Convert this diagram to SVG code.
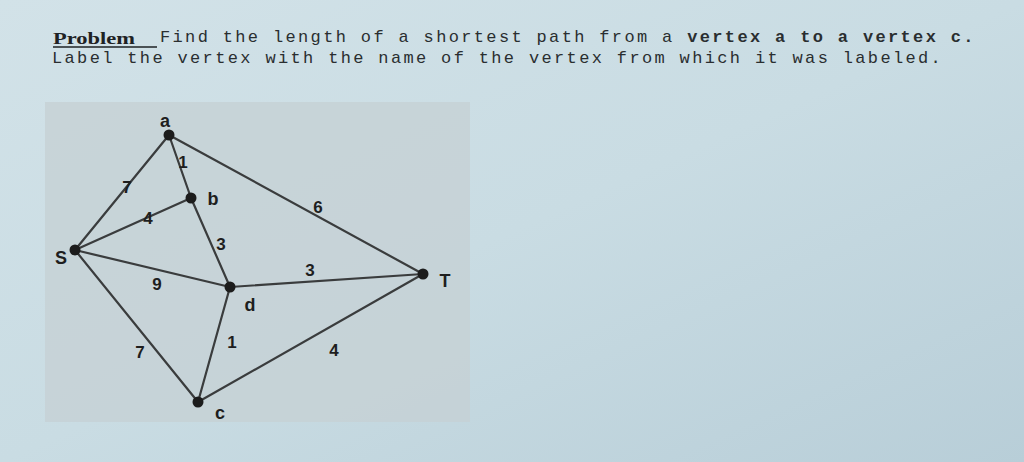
<svg xmlns="http://www.w3.org/2000/svg" width="1024" height="462" viewBox="0 0 1024 462">
<defs>
<linearGradient id="bg" x1="0" y1="0" x2="1" y2="1">
<stop offset="0" stop-color="#d2e2e8"/>
<stop offset="0.5" stop-color="#c9dce3"/>
<stop offset="1" stop-color="#b8ced8"/>
</linearGradient>
<style>
.hd{font-family:"Liberation Mono",monospace;font-size:17px;letter-spacing:2.35px;fill:#2a2e30}
.hb{font-weight:bold}
.pr{font-family:"Liberation Serif",serif;font-size:17px;font-weight:bold;fill:#1e2224}
.e{stroke:#3a3c3d;stroke-width:2.2;fill:none;stroke-linecap:round}
.n{fill:#1c1c1c}
.lb{font-family:"Liberation Sans",sans-serif;font-weight:bold;font-size:18px;fill:#1e1e1e;text-anchor:middle}
.w{font-family:"Liberation Sans",sans-serif;font-weight:bold;font-size:17px;fill:#1e1e1e;text-anchor:middle}
</style>
</defs>
<rect width="1024" height="462" fill="url(#bg)"/>
<rect x="45" y="102" width="425" height="320" fill="#c6d1d4" opacity="0.8"/>
<g id="header">
<text class="pr" x="53" y="44" textLength="82" lengthAdjust="spacingAndGlyphs">Problem</text>
<line x1="53" y1="47" x2="157" y2="47" stroke="#1e2224" stroke-width="1.6"/>
<text class="hd" x="160" y="42">Find the length of a shortest path from a <tspan class="hb">vertex a to a vertex c.</tspan></text>
<text class="hd" x="52" y="63">Label the vertex with the name of the vertex from which it was labeled.</text>
</g>
<g id="connectors">
<line class="e" x1="169" y1="135" x2="75" y2="250"/>
<line class="e" x1="169" y1="135" x2="191" y2="198"/>
<line class="e" x1="169" y1="135" x2="423" y2="274"/>
<line class="e" x1="191" y1="198" x2="75" y2="250"/>
<line class="e" x1="191" y1="198" x2="230" y2="287"/>
<line class="e" x1="75" y1="250" x2="230" y2="287"/>
<line class="e" x1="75" y1="250" x2="198" y2="402"/>
<line class="e" x1="230" y1="287" x2="423" y2="274"/>
<line class="e" x1="230" y1="287" x2="198" y2="402"/>
<line class="e" x1="198" y1="402" x2="423" y2="274"/>
<text class="w" x="127" y="193">7</text>
<text class="w" x="183" y="168">1</text>
<text class="w" x="148" y="224">4</text>
<text class="w" x="318" y="213">6</text>
<text class="w" x="221" y="250">3</text>
<text class="w" x="310" y="276">3</text>
<text class="w" x="157" y="290">9</text>
<text class="w" x="140" y="358">7</text>
<text class="w" x="232" y="348">1</text>
<text class="w" x="334" y="356">4</text>
</g>
<g id="node-a"><circle class="n" cx="169" cy="135" r="5.5"/><text class="lb" x="165" y="127">a</text></g>
<g id="node-b"><circle class="n" cx="191" cy="198" r="5.5"/><text class="lb" x="213" y="205">b</text></g>
<g id="node-S"><circle class="n" cx="75" cy="250" r="5.5"/><text class="lb" x="61" y="264">S</text></g>
<g id="node-d"><circle class="n" cx="230" cy="287" r="5.5"/><text class="lb" x="250" y="311">d</text></g>
<g id="node-T"><circle class="n" cx="423" cy="274" r="5.5"/><text class="lb" x="445" y="287">T</text></g>
<g id="node-c"><circle class="n" cx="198" cy="402" r="5.5"/><text class="lb" x="220" y="419">c</text></g>
</svg>
